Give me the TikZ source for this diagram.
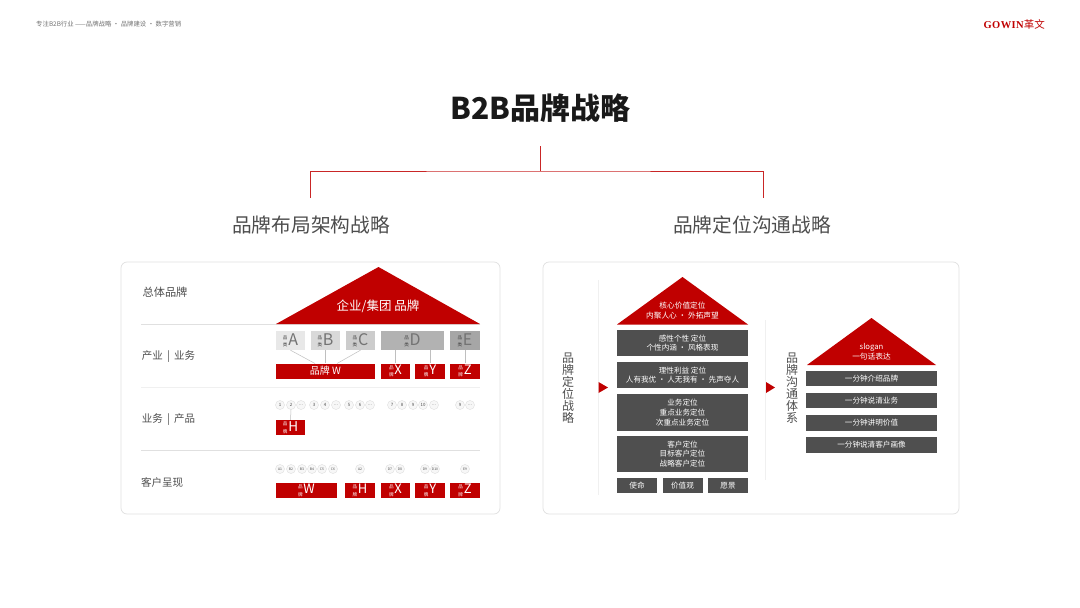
\documentclass[tikz,border=0pt]{standalone}
\usepackage{fontspec}
\setmainfont{Noto Sans CJK SC}
\newfontfamily\logofont[LetterSpace=4]{Liberation Serif}
\definecolor{brandred}{HTML}{C00000}
\definecolor{darkbox}{HTML}{4F4F4F}
\definecolor{labelgray}{HTML}{4D4D4D}
\newcommand{\fsize}[1]{\fontsize{#1}{#1}\selectfont}
\newcommand{\tinystack}[2]{$\vcenter{\hbox{\fontsize{4.6}{5}\selectfont\shortstack{#1\\#2}}}$\hspace{0.8pt}}
\newcommand{\graystack}{\tinystack{\textcolor{black!75}{品}}{\textcolor{black!75}{类}}}
\newcommand{\moredots}{\fontsize{4.4}{4.4}\selectfont …}
\tikzset{
  card/.style={draw=black!12,line width=0.7pt,rounded corners=6pt,fill=white},
  divider/.style={draw=black!12,line width=0.6pt},
  softline/.style={draw=black!6,line width=0.8pt},
  tree/.style={draw=brandred!85,line width=0.8pt},
  link/.style={draw=black!25,line width=0.5pt},
  rowlabel/.style={text=labelgray,font=\fsize{10.5},inner sep=0pt},
  subtitle/.style={text=labelgray,font=\fsize{19.7},inner sep=0pt},
  sidetext/.style={text=labelgray,inner sep=0pt,align=center,font=\fontsize{12}{11.9}\selectfont},
  catbox/.style={inner sep=0pt,minimum height=19pt,text=black!55,font=\fsize{16}},
  redbox/.style={fill=brandred,inner sep=0pt,minimum height=15pt,text=white,font=\fsize{13}},
  darkcell/.style={fill=darkbox,inner sep=0pt,minimum width=131pt,text=white,align=center,font=\fontsize{7.6}{9.6}\selectfont},
  rooftext/.style={text=white,inner sep=0pt,font=\fsize{7.7}},
  numdot/.style={circle,draw=black!15,line width=0.3pt,fill=black!3,inner sep=0pt,minimum size=9pt,text=black!70,font=\fsize{4.4}},
}
\begin{document}
\begin{tikzpicture}[x=1pt,y=-1pt]
  \useasboundingbox (0,0) rectangle (1080,608);
  % header
  \node[anchor=west,inner sep=0pt,text=black!55,font=\fsize{6.4}] at (36,24) (slogan) {专注B2B行业 ——品牌战略 · 品牌建设 · 数字营销};
  \node[anchor=east,inner sep=0pt,text=brandred,font=\fsize{10.5}] at (1045,24) (logo) {{\logofont\bfseries GOWIN}革文};
  % title and tree
  \node[inner sep=0pt,text=black!90,font=\bfseries\fsize{30}] at (540.5,108) (title) {B2B品牌战略};
  \coordinate (treeTop) at (540,146);
  \coordinate (treeMid) at (540,171);
  \coordinate (treeLeft) at (310,198);
  \coordinate (treeRight) at (763,198);
  \draw[tree] (treeTop) -- (treeMid);
  \draw[tree] (treeLeft) |- (treeMid) -| (treeRight);
  \node[subtitle] at (311,225) (layoutTitle) {品牌布局架构战略};
  \node[subtitle] at (752,225) (positionTitle) {品牌定位沟通战略};
  % cards
  \draw[card] (121,262) rectangle (500,514);
  \draw[card] (543,262) rectangle (959,514);
  % left card
  \draw[divider] (141,324.5) -- (480,324.5);
  \draw[softline] (141,387) -- (480,387);
  \draw[divider] (141,450) -- (480,450);
  \node[rowlabel,font=\fsize{11.2}] at (165,292) (rowGroup) {总体品牌};
  \node[rowlabel] at (168.5,357) (rowIndustry) {产业 \,|\, 业务};
  \node[rowlabel] at (168.5,419.5) (rowBusiness) {业务 \,|\, 产品};
  \node[rowlabel] at (162,482) (rowCustomer) {客户呈现};
  \fill[brandred] (276,324) -- (378.5,267) -- (480,324) -- cycle;
  \node[text=white,inner sep=0pt,font=\fsize{12.5}] at (378,306) (groupBrand) {企业/集团 品牌};
  % categories
  \node[catbox,minimum width=29pt,fill=black!9] at (290.5,340.5) (catA) {\graystack A};
  \node[catbox,minimum width=29pt,fill=black!15] at (325.5,340.5) (catB) {\graystack B};
  \node[catbox,minimum width=29pt,fill=black!20] at (360.5,340.5) (catC) {\graystack C};
  \node[catbox,minimum width=63pt,fill=black!30] at (412.5,340.5) (catD) {\graystack D};
  \node[catbox,minimum width=30pt,fill=black!35] at (465,340.5) (catE) {\graystack E};
  \node[redbox,minimum width=99pt,font=\fsize{10}] at (325.5,371) (brandW) {品牌 W};
  \node[redbox,minimum width=29pt] at (395.5,371) (brandX) {\tinystack{品}{牌}X};
  \node[redbox,minimum width=30pt] at (430,371) (brandY) {\tinystack{品}{牌}Y};
  \node[redbox,minimum width=30pt] at (465,371) (brandZ) {\tinystack{品}{牌}Z};
  \coordinate (inA) at (315,363.5);
  \coordinate (inC) at (337,363.5);
  \draw[link] (catA.south) -- (inA);
  \draw[link] (catB.south) -- (brandW.north);
  \draw[link] (catC.south) -- (inC);
  \coordinate (outX) at (395.5,350);
  \coordinate (outY) at (430,350);
  \draw[link] (outX) -- (brandX.north);
  \draw[link] (outY) -- (brandY.north);
  \draw[link] (catE.south) -- (brandZ.north);
  % products
  \foreach \px/\ptext/\pname in {280/1/a,291/2/b,301/\moredots/c,314/3/d,325/4/e,336/\moredots/f,349/5/g,360/6/h,370/\moredots/i,392/7/j,402/8/k,413/9/l,423/10/m,434/\moredots/n,460/9/o,470/\moredots/p}
    \node[numdot] at (\px,405) (prod\pname) {\ptext};
  \node[redbox,minimum width=29pt,font=\fsize{13.5}] at (290.5,427.5) (brandH) {\tinystack{品}{牌}H};
  \draw[link] (prodb.south) -- (brandH.north);
  % customers
  \foreach \px/\ptext/\pname in {280/A1/a,291/B2/b,302/B3/c,312/B4/d,322/C5/e,333/C6/f,360/A2/g,390/D7/h,400/D8/i,425/D9/j,435/D10/k,465/E9/l}
    \node[numdot] at (\px,469) (cust\pname) {\fontsize{3.4}{3.4}\selectfont\ptext};
  \node[redbox,minimum width=61pt] at (306.5,490.5) (rowW) {\tinystack{品}{牌}W};
  \node[redbox,minimum width=30pt] at (360,490.5) (rowH) {\tinystack{品}{牌}H};
  \node[redbox,minimum width=29pt] at (395.5,490.5) (rowX) {\tinystack{品}{牌}X};
  \node[redbox,minimum width=30pt] at (430,490.5) (rowY) {\tinystack{品}{牌}Y};
  \node[redbox,minimum width=30pt] at (465,490.5) (rowZ) {\tinystack{品}{牌}Z};
  % right card
  \draw[softline] (598,280) -- (598,495);
  \draw[softline] (765.5,320) -- (765.5,480);
  \node[sidetext] at (568,388) (positionSide) {品\\牌\\定\\位\\战\\略};
  \node[sidetext] at (792,388) (systemSide) {品\\牌\\沟\\通\\体\\系};
  \fill[brandred] (598.5,382) -- (608,387.5) -- (598.5,393) -- cycle;
  \fill[brandred] (766,382) -- (775,387.5) -- (766,393) -- cycle;
  \fill[brandred] (617,324.5) -- (682.5,277) -- (748,324.5) -- cycle;
  \node[rooftext] at (682.5,306) (coreValue) {核心价值定位};
  \node[rooftext] at (682.5,316) (coreText) {内聚人心 · 外拓声望};
  \node[darkcell,minimum height=26pt] at (682.5,343) (cellFeel) {感性个性 定位\\个性内涵 · 风格表现};
  \node[darkcell,minimum height=26pt] at (682.5,375) (cellReason) {理性利益 定位\\人有我优 · 人无我有 · 先声夺人};
  \node[darkcell,minimum height=37pt] at (682.5,412.5) (cellBusiness) {业务定位\\重点业务定位\\次重点业务定位};
  \node[darkcell,minimum height=36pt] at (682.5,454) (cellCustomer) {客户定位\\目标客户定位\\战略客户定位};
  \node[darkcell,minimum width=40pt,minimum height=15pt] at (637,485.5) (cellMission) {使命};
  \node[darkcell,minimum width=40pt,minimum height=15pt] at (682.5,485.5) (cellValues) {价值观};
  \node[darkcell,minimum width=40pt,minimum height=15pt] at (728,485.5) (cellVision) {愿景};
  \fill[brandred] (807,365) -- (871.5,318) -- (936,365) -- cycle;
  \node[rooftext] at (871.5,347) (sloganText) {slogan};
  \node[rooftext] at (871.5,357) (sloganLine) {一句话表达};
  \node[darkcell,minimum height=15.5pt] at (871.5,378.5) (minBrand) {一分钟介绍品牌};
  \node[darkcell,minimum height=15.5pt] at (871.5,400.5) (minBusiness) {一分钟说清业务};
  \node[darkcell,minimum height=15.5pt] at (871.5,423) (minValue) {一分钟讲明价值};
  \node[darkcell,minimum height=15.5pt] at (871.5,445) (minCustomer) {一分钟说清客户画像};
\end{tikzpicture}
\end{document}
